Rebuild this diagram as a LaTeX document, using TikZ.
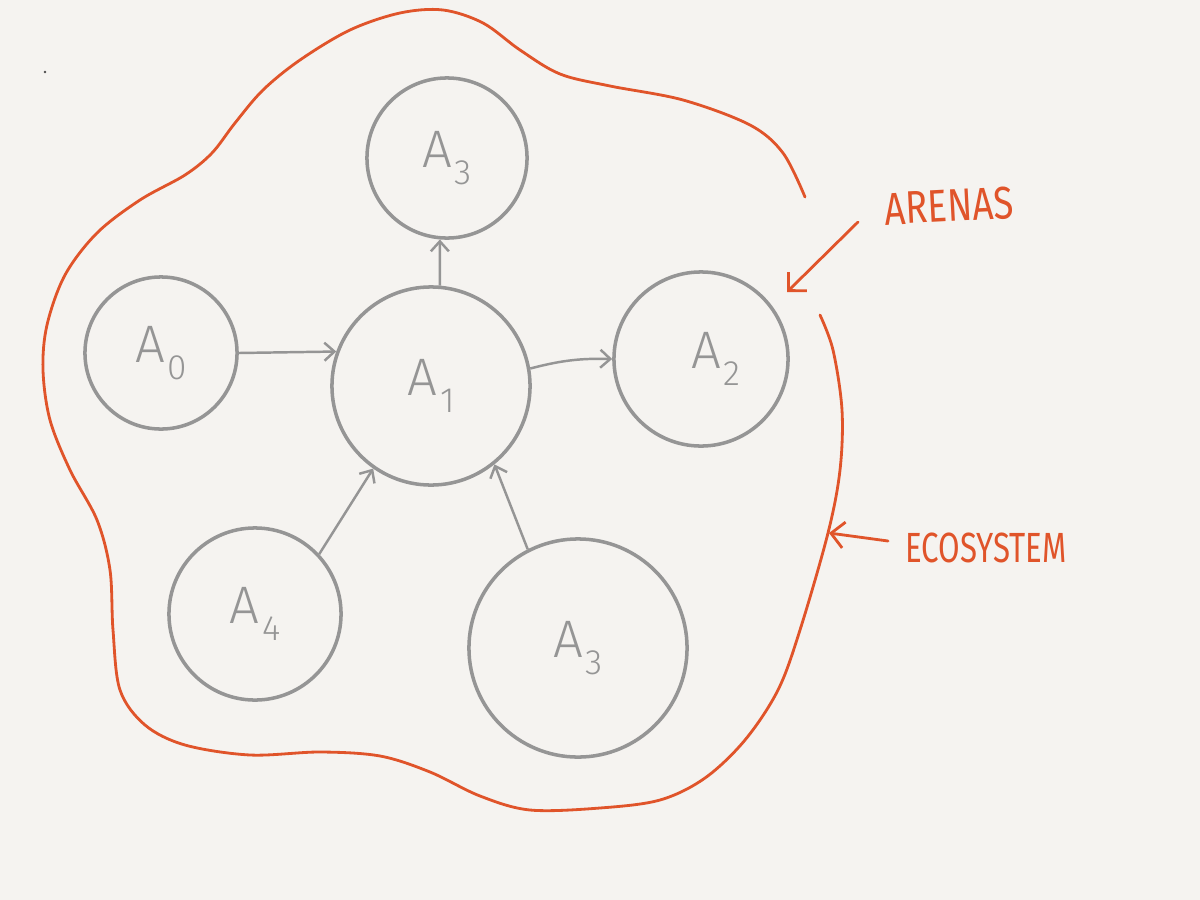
\documentclass[tikz,border=0pt]{standalone}
\usepackage{fontspec}
\setmainfont{Fira Sans}[UprightFont=* Light]
\newfontfamily\markerfont{Fira Sans}
\usetikzlibrary{arrows.meta}
\definecolor{paper}{HTML}{F5F3F0}
\definecolor{ink}{HTML}{959595}
\definecolor{marker}{HTML}{E0542A}
\newcommand{\arena}[1]{A\kern0.8pt\raisebox{-0.6ex}{\fontsize{10}{10}\selectfont #1}}

\begin{document}
\begin{tikzpicture}[
    x=0.01cm, y=-0.01cm,
    agent/.style={circle, draw=ink, line width=1pt, inner sep=0pt, text=ink, font=\fontsize{15}{18}\selectfont},
    arr/.style={-{Straight Barb[length=1mm, width=1.8mm]}, draw=ink, line width=0.7pt},
    note/.style={text=marker, font=\markerfont\fontsize{13}{16}\selectfont},
    pen/.style={draw=marker, line width=0.8pt, line cap=round},
    tip/.style={pen, -{Straight Barb[length=1.3mm, width=2.6mm]}}
]
    \fill[paper] (0,0) rectangle (1200,900);
    \useasboundingbox (0,0) rectangle (1200,900);
    \fill[black!70] (45,72) circle [radius=1.3];

    \node[agent, minimum size=1.6cm] (a3t) at (447,158) {\arena{3}};
    \node[agent, minimum size=1.52cm] (a0) at (161,353) {\arena{0}};
    \node[agent, minimum size=1.98cm] (a1) at (431,386) {\arena{1}};
    \node[agent, minimum size=1.74cm] (a2) at (701,359) {\hspace{0.3cm}\arena{2}};
    \node[agent, minimum size=1.72cm] (a4) at (255,614) {\arena{4}};
    \node[agent, minimum size=2.18cm] (a3b) at (578,648) {\arena{3}};

    \draw[arr] (a0.east) -- (a1.160);
    \draw[arr] (a1.85) -- (a3t.265);
    \draw[arr] (a1.10) to[bend left=8] (a2.180);
    \draw[arr] (a4.43) -- (a1.235);
    \draw[arr] (a3b.117) -- (a1.309);

    \draw[pen] plot[smooth, tension=0.55] coordinates {
        (805,197) (783,153) (750,125) (683,100) (610,86) (560,74) (520,50) (483,23)
        (443,10) (400,13) (350,30) (300,60) (263,90) (235,123) (212,153) (185,175)
        (140,200) (97,233) (65,275) (47,325) (43,370) (50,420) (70,470) (97,520)
        (110,570) (113,630) (120,690) (145,725) (185,745) (250,755) (320,752) (380,756)
        (430,772) (480,796) (530,810) (600,808) (660,800) (705,778) (745,740) (778,690)
        (800,630) (828,533) (840,470) (842,410) (833,350) (820,315)};

    \node[note, rotate=3] (arenas) at (949,206) {\scalebox{0.8}[1]{ARENAS}};
    \node[note, font=\markerfont\fontsize{12}{14}\selectfont] (eco) at (986,548) {\scalebox{0.74}[1]{ECOSYSTEM}};
    \coordinate (arenatail) at (858,222);
    \coordinate (arenatip) at (787,292);
    \coordinate (ecotail) at (888,541);
    \coordinate (ecotip) at (829,533);
    \draw[tip] (arenatail) -- (arenatip);
    \draw[tip] (ecotail) -- (ecotip);
\end{tikzpicture}
\end{document}
